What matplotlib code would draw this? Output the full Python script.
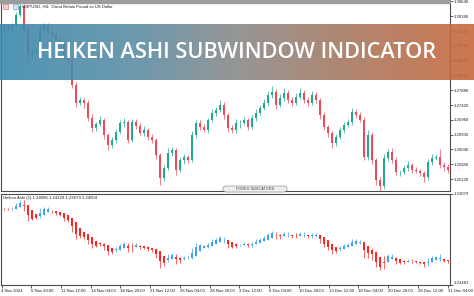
import numpy as np
import matplotlib
matplotlib.use("Agg")
import matplotlib.pyplot as plt
from matplotlib.colors import LinearSegmentedColormap
from matplotlib.patches import Rectangle, FancyBboxPatch

# ---------------- data (GBPUSD H4) ----------------
first_open = 1.29876
closes = [
    1.29845, 1.29814, 1.29907, 1.30218, 1.30498, 1.29752, 1.28975, 1.29068,
    1.29130, 1.29752, 1.29907, 1.29689, 1.29596, 1.29441, 1.29285, 1.28975,
    1.28819, 1.28042, 1.27483, 1.27576, 1.27483, 1.27017, 1.26706, 1.26830,
    1.26954, 1.26488, 1.26177, 1.26333, 1.26581, 1.26861, 1.26892, 1.26333,
    1.26892, 1.26768, 1.26550, 1.26644, 1.26426, 1.26333, 1.25867, 1.25152,
    1.25463, 1.25929, 1.26022, 1.25400, 1.25711, 1.25804, 1.25711, 1.26488,
    1.26861, 1.26737, 1.26644, 1.26954, 1.27172, 1.27265, 1.27421, 1.27110,
    1.26706, 1.26644, 1.26861, 1.26861, 1.26954, 1.26737, 1.27017, 1.27172,
    1.27327, 1.27483, 1.27731, 1.27825, 1.27421, 1.27638, 1.27794, 1.27576,
    1.27483, 1.27669, 1.27794, 1.27576, 1.27483, 1.27731, 1.27576, 1.27110,
    1.26737, 1.26550, 1.26240, 1.26426, 1.26644, 1.26799, 1.26892, 1.27203,
    1.27110, 1.26954, 1.25804, 1.26488, 1.25711, 1.25090, 1.24903, 1.25773,
    1.25960, 1.25711, 1.25338, 1.25338, 1.25463, 1.25556, 1.25400, 1.25369,
    1.25307, 1.25183, 1.25649, 1.25773, 1.25804, 1.25556, 1.25494, 1.25400,
]
wick_up_pips = [
    6, 8, 5, 10, 9, 6, 12, 8,   10, 15, 7, 6, 9, 5, 8, 6,
    8, 14, 10, 9, 7, 8, 12, 6,  12, 7, 6, 9, 10, 8, 14, 6,
    10, 8, 9, 12, 6, 8, 5, 7,   9, 15, 10, 6, 8, 9, 7, 12,
    10, 8, 9, 7, 12, 10, 16, 8, 7, 9, 11, 8, 10, 7, 9, 12,
    9, 11, 12, 20, 10, 12, 14, 8, 9, 12, 14, 8, 10, 13, 9, 7,
    8, 6, 7, 9, 10, 8, 9, 12,   10, 9, 8, 16, 10, 7, 9, 14,
    10, 12, 8, 6, 9, 11, 7, 8,  7, 6, 10, 14, 9, 24, 10, 8,
]
wick_dn_pips = [
    8, 5, 9, 4, 6, 10, 14, 6,   7, 5, 9, 6, 8, 10, 7, 12,
    9, 10, 12, 6, 14, 9, 11, 8, 6, 11, 16, 8, 10, 7, 12, 9,
    7, 9, 6, 8, 10, 9, 12, 22,  10, 6, 8, 14, 7, 12, 9, 6,
    8, 10, 6, 9, 7, 8, 6, 11,   12, 10, 8, 16, 7, 9, 6, 8,
    7, 6, 9, 8, 12, 7, 8, 10,   8, 7, 6, 10, 9, 7, 8, 12,
    10, 12, 16, 8, 7, 9, 6, 8,  8, 7, 10, 9, 12, 14, 20, 8,
    9, 8, 10, 12, 7, 9, 8, 6,   10, 16, 9, 8, 7, 10, 11, 9,
]
price_ticks = [1.25120, 1.25580, 1.26040, 1.26500, 1.26960, 1.27420, 1.27880,
               1.28340, 1.28800, 1.29260, 1.29720, 1.30180, 1.30640]
sub_range = [1.23481, 1.31079]
date_labels = ["4 Nov 2024", "6 Nov 20:00", "11 Nov 12:00", "14 Nov 04:00",
               "18 Nov 20:00", "21 Nov 12:00", "26 Nov 04:00", "28 Nov 20:00",
               "3 Dec 12:00", "6 Dec 04:00", "10 Dec 20:00", "13 Dec 12:00",
               "18 Dec 04:00", "20 Dec 20:00", "26 Dec 12:00", "31 Dec 04:00"]
header_text = "GBPUSD, H4:  Great Britain Pound vs US Dollar"
ha_label = "Heiken Ashi (1) 1.24096 1.24229 1.23679 1.24504"
banner_text = "HEIKEN ASHI SUBWINDOW INDICATOR"

# ---------------- derived OHLC ----------------
c = np.array(closes)
o = np.concatenate([[first_open], c[:-1]])
h = np.maximum(o, c) + np.array(wick_up_pips) / 10000.0
l = np.minimum(o, c) - np.array(wick_dn_pips) / 10000.0
n = len(c)
idx = np.arange(n)

# Heiken Ashi
hac = (o + h + l + c) / 4.0
hao = np.zeros(n)
hao[0] = (o[0] + c[0]) / 2.0
for i in range(1, n):
    hao[i] = (hao[i - 1] + hac[i - 1]) / 2.0
hah = np.maximum.reduce([h, hao, hac])
hal = np.minimum.reduce([l, hao, hac])

# ---------------- figure ----------------
plt.rcParams["font.family"] = ["Liberation Sans", "DejaVu Sans"]
W, H = 474, 296
fig = plt.figure(figsize=(W / 100, H / 100), dpi=100)
fig.patch.set_facecolor("white")


def px_axes(x0, y0, x1, y1):
    return fig.add_axes([x0 / W, 1 - y1 / H, (x1 - x0) / W, (y1 - y0) / H])


FRAME = "#4a4a4a"
TXT = "#1e1e1e"
FS = 3.1

ax1 = px_axes(1, 0, 450, 191)
ax2 = px_axes(1, 194, 450, 285)
xlim = (-0.75, 111.5)

BULL, BEAR = "#22a88c", "#ee4a58"
HBULL, HBEAR = "#3f9ff0", "#ff2424"


def draw_candles(ax, oo, hh, ll, cc, up_col, dn_col, width):
    up = cc >= oo
    cols = np.where(up, up_col, dn_col)
    ax.vlines(idx, ll, hh, colors=cols, linewidth=0.5, zorder=2)
    bottom = np.minimum(oo, cc)
    height = np.maximum(np.abs(cc - oo), 0.00008)
    ax.bar(idx, height, bottom=bottom, width=width, color=cols,
           linewidth=0, zorder=3)


draw_candles(ax1, o, h, l, c, BULL, BEAR, 0.5)
ax1.set_xlim(*xlim)
ax1.set_ylim(1.24748, 1.30684)
ax1.yaxis.tick_right()
ax1.set_yticks(price_ticks)
ax1.set_yticklabels(["%.5f" % v for v in price_ticks])
ax1.set_xticks([])

draw_candles(ax2, hao, hah, hal, hac, HBULL, HBEAR, 0.5)
ax2.set_xlim(*xlim)
ax2.set_ylim(sub_range[0], sub_range[1])
ax2.yaxis.tick_right()
ax2.set_yticks(sub_range)
ax2.set_yticklabels(["%.5f" % v for v in sub_range])
tick_pos = np.linspace((1.5 - 4) / 4, (447.5 - 4) / 4, len(date_labels))
ax2.set_xticks(tick_pos)
ax2.set_xticklabels(date_labels)
for lab in ax2.get_xticklabels():
    lab.set_horizontalalignment("left")

for ax in (ax1, ax2):
    ax.set_facecolor("white")
    for s in ax.spines.values():
        s.set_color(FRAME)
        s.set_linewidth(0.8)
    ax.tick_params(axis="both", labelsize=FS, colors=TXT, length=1.8,
                   width=0.5, pad=1.0)
ax1.spines["top"].set_visible(False)
ax2.tick_params(axis="x", length=2.2, pad=0.8)
ax2.get_yticklabels()[0].set_verticalalignment("bottom")
ax2.get_yticklabels()[1].set_verticalalignment("center")

# top gray bar + header
fig.add_artist(Rectangle((0, 1 - 2.5 / H), 450 / W, 2.5 / H,
                         transform=fig.transFigure, color="#9c9c9c", zorder=5))
fig.add_artist(Rectangle((3 / W, 1 - 9 / H), 5 / W, 5 / H, transform=fig.transFigure,
                         facecolor="#f6d0d0", edgecolor="#c86868", lw=0.4, zorder=6))
fig.add_artist(Rectangle((13 / W, 1 - 9 / H), 5 / W, 5 / H, transform=fig.transFigure,
                         facecolor="#d4e6f4", edgecolor="#5e92c4", lw=0.4, zorder=6))
fig.text(22 / W, 1 - 6.5 / H, header_text, fontsize=FS, color=TXT,
         va="center", ha="left", zorder=6)
fig.text(3 / W, 1 - 198.5 / H, ha_label, fontsize=FS, color=TXT,
         va="center", ha="left", zorder=6)

# small watermark box
fig.add_artist(FancyBboxPatch((223 / W, 1 - 192 / H), 64 / W, 6 / H,
                              boxstyle="round,pad=0,rounding_size=0.008",
                              transform=fig.transFigure, facecolor="#eeeeee",
                              edgecolor="#7a7a7a", lw=0.4, zorder=6))
fig.text(255 / W, 1 - 189 / H, "FOREX INDICATORS", fontsize=2.8, color="#444444",
         va="center", ha="center", zorder=7)

# banner
bax = fig.add_axes([0, 1 - 80 / H, 1, 56 / H], zorder=10)
cmap = LinearSegmentedColormap.from_list(
    "banner", [(0.0, "#3a88ae"), (0.30, "#5f8ea4"), (0.5, "#8a8a8a"),
               (0.72, "#a67a62"), (1.0, "#c8683c")])
grad = np.linspace(0, 1, 256)[None, :]
bax.imshow(grad, aspect="auto", cmap=cmap, alpha=0.9, extent=[0, 1, 0, 1])
bax.set_xlim(0, 1)
bax.set_ylim(0, 1)
bax.axis("off")

t = fig.text(237 / W, 1 - 52.5 / H, banner_text, fontsize=14, family="Open Sans",
             weight="semibold", color="white", ha="center", va="center", zorder=20)
fig.canvas.draw()
bb = t.get_window_extent()
t.set_fontsize(14 * 403.0 / bb.width)

fig.savefig("out.png", dpi=100, facecolor="white")
